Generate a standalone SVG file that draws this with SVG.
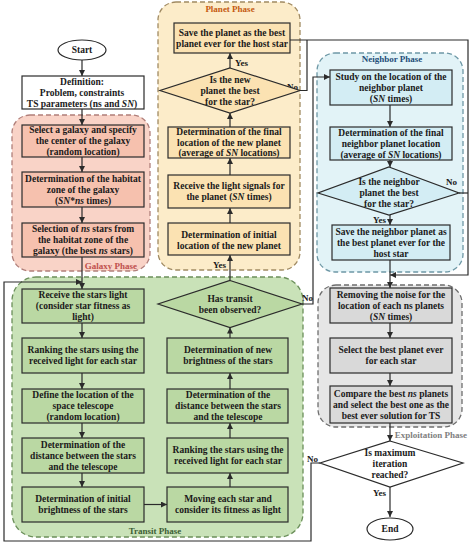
<svg xmlns="http://www.w3.org/2000/svg" width="474" height="548" viewBox="0 0 474 548">
<style>
text{font-family:"Liberation Serif","Times New Roman",serif;font-weight:bold;font-size:9.5px;fill:#1a1a1a;text-anchor:middle}
.it{font-style:italic}
.lbl{font-size:9px}
.yn{font-size:9px;text-anchor:start}
.box{stroke:#2b2b2b;stroke-width:1.2}
.ph{stroke-width:1.3;stroke-dasharray:5 3}
.gal{fill:#f9d3c7;stroke:#b07f7a}
.galb{fill:#f6c1ae}
.pla{fill:#fcecc9;stroke:#a08a62}
.plab{fill:#fbe2b2}
.nei{fill:#e2f3f7;stroke:#6e98a6}
.neib{fill:#d3edf4}
.tra{fill:#c9e2b8;stroke:#6b8f5a}
.trab{fill:#bad8a3}
.exp{fill:#e6e6e6;stroke:#6e6e6e}
.expb{fill:#d9d9d9}
.wht{fill:#ffffff}
#connectors path{fill:none;stroke:#2b2b2b;stroke-width:1.2}
</style>
<defs>
<marker id="ah" markerWidth="6" markerHeight="6" refX="6" refY="3" orient="auto" markerUnits="userSpaceOnUse">
<path d="M0,0 L6,3 L0,6 z" fill="#2b2b2b"/>
</marker>
</defs>

<g id="phases">
<g id="galaxy-phase"><rect class="ph gal" x="12" y="115" width="138" height="156" rx="18"/><text class="lbl" x="111" y="269" fill="#c0504d" style="fill:#c0504d">Galaxy Phase</text></g>
<g id="planet-phase"><rect class="ph pla" x="158" y="2" width="142" height="268" rx="18"/><text class="lbl" x="230" y="12" style="fill:#c55a11">Planet Phase</text></g>
<g id="neighbor-phase"><rect class="ph nei" x="317" y="53" width="146" height="219" rx="18"/><text class="lbl" x="392" y="62" style="fill:#1f4e79">Neighbor Phase</text></g>
<g id="transit-phase"><rect class="ph tra" x="12" y="277" width="291" height="260" rx="24"/><text class="lbl" x="155" y="534" style="fill:#3d5e35">Transit Phase</text></g>
<g id="exploitation-phase"><rect class="ph exp" x="318" y="285" width="144" height="142" rx="18"/><text class="lbl" x="431" y="438" style="fill:#7f7f7f">Exploitation Phase</text></g>
</g>

<g id="connectors">
<path d="M82,60 V76" marker-end="url(#ah)"/>
<path d="M82,109 V125" marker-end="url(#ah)"/>
<path d="M82,157 V172" marker-end="url(#ah)"/>
<path d="M82,207 V223" marker-end="url(#ah)"/>
<path d="M82,257 V289" marker-end="url(#ah)"/>
<path d="M82,323 V338" marker-end="url(#ah)"/>
<path d="M82,373 V389" marker-end="url(#ah)"/>
<path d="M82,423 V438" marker-end="url(#ah)"/>
<path d="M82,473 V487" marker-end="url(#ah)"/>
<path d="M144,504.5 H167" marker-end="url(#ah)"/>
<path d="M230,487 V473" marker-end="url(#ah)"/>
<path d="M230,438 V423" marker-end="url(#ah)"/>
<path d="M230,389 V373" marker-end="url(#ah)"/>
<path d="M230,338 V327.5" marker-end="url(#ah)"/>
<path d="M230,280.5 V255" marker-end="url(#ah)"/>
<path d="M230,223 V208" marker-end="url(#ah)"/>
<path d="M230,175 V158" marker-end="url(#ah)"/>
<path d="M230,127 V113" marker-end="url(#ah)"/>
<path d="M230,68 V53" marker-end="url(#ah)"/>
<path d="M300,90.5 H307 V40"/>
<path d="M290,40 H468 V275 H390" marker-end="url(#ah)"/>
<path d="M302,304 H313 V77 H330" marker-end="url(#ah)"/>
<path d="M390,105 V127" marker-end="url(#ah)"/>
<path d="M390,160 V167" marker-end="url(#ah)"/>
<path d="M390,215 V225" marker-end="url(#ah)"/>
<path d="M459,193 H468"/>
<path d="M390,260 V288" marker-end="url(#ah)"/>
<path d="M390,323 V338" marker-end="url(#ah)"/>
<path d="M390,373 V386" marker-end="url(#ah)"/>
<path d="M390,423 V441" marker-end="url(#ah)"/>
<path d="M390,487 V517" marker-end="url(#ah)"/>
<path d="M320,463 H311 V541 H4 V282 H82" marker-end="url(#ah)"/>
<text class="yn" x="235" y="66">Yes</text>
<text class="yn" x="287" y="90">No</text>
<text class="yn" x="213" y="268">Yes</text>
<text class="yn" x="302" y="301">No</text>
<text class="yn" x="373" y="223">Yes</text>
<text class="yn" x="446" y="185">No</text>
<text class="yn" x="307" y="462">No</text>
<text class="yn" x="373" y="496">Yes</text>
</g>

<g id="start"><ellipse class="box wht" cx="82" cy="50" rx="24" ry="10"/><text x="82" y="53.3">Start</text></g>
<g id="definition"><rect class="box wht" x="22" y="76" width="122" height="33"/><text x="82" y="84.8">Definition:</text><text x="82" y="95.8">Problem,  constraints</text><text x="82" y="106.8">TS parameters (ns and <tspan class="it">SN</tspan>)</text></g>

<g id="g1"><rect class="box galb" x="22" y="125" width="122" height="32"/><text x="83" y="133.3">Select a galaxy and specify</text><text x="83" y="144.3">the center of the galaxy</text><text x="83" y="155.3">(random location)</text></g>
<g id="g2"><rect class="box galb" x="22" y="172" width="122" height="35"/><text x="83" y="181.8">Determination of the habitat</text><text x="83" y="192.8">zone of the galaxy</text><text x="83" y="203.8">(<tspan class="it">SN</tspan>*<tspan class="it">ns</tspan> times)</text></g>
<g id="g3"><rect class="box galb" x="22" y="223" width="122" height="34"/><text x="83" y="232.3">Selection of <tspan class="it">ns</tspan> stars from</text><text x="83" y="243.3">the habitat zone of the</text><text x="83" y="254.3">galaxy (the best <tspan class="it">ns</tspan> stars)</text></g>

<g id="t1"><rect class="box trab" x="22" y="289" width="122" height="34"/><text x="83" y="298.3">Receive the stars light</text><text x="83" y="309.3">(consider star fitness as</text><text x="83" y="320.3">light)</text></g>
<g id="t2"><rect class="box trab" x="22" y="338" width="122" height="35"/><text x="83" y="353.3">Ranking the stars using the</text><text x="83" y="364.3">received light for each star</text></g>
<g id="t3"><rect class="box trab" x="22" y="389" width="122" height="34"/><text x="83" y="398.3">Define the location of the</text><text x="83" y="409.3">space telescope</text><text x="83" y="420.3">(random location)</text></g>
<g id="t4"><rect class="box trab" x="22" y="438" width="122" height="35"/><text x="83" y="447.8">Determination of the</text><text x="83" y="458.8">distance between the stars</text><text x="83" y="469.8">and the telescope</text></g>
<g id="t5"><rect class="box trab" x="22" y="487" width="122" height="35"/><text x="83" y="502.3">Determination of initial</text><text x="83" y="513.3">brightness of the stars</text></g>

<g id="transit-decision"><polygon class="box trab" points="230,280.5 302,304 230,327.5 158,304"/><text x="230" y="301.8">Has transit</text><text x="230" y="312.8">been observed?</text></g>
<g id="r1"><rect class="box trab" x="167" y="338" width="121" height="35"/><text x="228" y="353.3">Determination of new</text><text x="228" y="364.3">brightness of the stars</text></g>
<g id="r2"><rect class="box trab" x="167" y="389" width="121" height="34"/><text x="228" y="398.3">Determination of the</text><text x="228" y="409.3">distance between the stars</text><text x="228" y="420.3">and the telescope</text></g>
<g id="r3"><rect class="box trab" x="167" y="438" width="121" height="35"/><text x="228" y="453.3">Ranking the stars using the</text><text x="228" y="464.3">received light for each star</text></g>
<g id="r4"><rect class="box trab" x="167" y="487" width="121" height="35"/><text x="228" y="502.3">Moving each star and</text><text x="228" y="513.3">consider its fitness as light</text></g>

<g id="p-save"><rect class="box plab" x="174" y="23" width="116" height="30"/><text x="232" y="36.3">Save the planet as the best</text><text x="232" y="47.3">planet ever for the host star</text></g>
<g id="p-decision"><polygon class="box plab" points="230,68 300,90.5 230,113 160,90.5"/><text x="230" y="83">Is the new</text><text x="230" y="94">planet the best</text><text x="230" y="105">for the star?</text></g>
<g id="p-final"><rect class="box plab" x="168" y="127" width="122" height="31"/><text x="229" y="134.8">Determination of the final</text><text x="229" y="145.8">location of the new planet</text><text x="229" y="156.3">(average of <tspan class="it">SN</tspan> locations)</text></g>
<g id="p-receive"><rect class="box plab" x="168" y="175" width="122" height="33"/><text x="229" y="189.3">Receive the light signals for</text><text x="229" y="200.3">the planet (<tspan class="it">SN</tspan> times)</text></g>
<g id="p-init"><rect class="box plab" x="168" y="223" width="122" height="32"/><text x="229" y="237.8">Determination of initial</text><text x="229" y="248.8">location of the new planet</text></g>

<g id="n1"><rect class="box neib" x="330" y="70" width="122" height="35"/><text x="391" y="79.8">Study on the location of the</text><text x="391" y="90.8">neighbor planet</text><text x="391" y="101.8">(<tspan class="it">SN</tspan> times)</text></g>
<g id="n2"><rect class="box neib" x="330" y="127" width="122" height="33"/><text x="391" y="135.8">Determination of the final</text><text x="391" y="146.8">neighbor planet location</text><text x="391" y="157.8">(average of <tspan class="it">SN</tspan> locations)</text></g>
<g id="n-decision"><polygon class="box neib" points="389,167 459,193 389,215 318,193"/><text x="389" y="185">Is the neighbor</text><text x="389" y="196">planet the best</text><text x="389" y="207">for the star?</text></g>
<g id="n3"><rect class="box neib" x="332" y="225" width="118" height="35"/><text x="391" y="234.8">Save the neighbor planet as</text><text x="391" y="245.8">the best planet ever for the</text><text x="391" y="256.8">host star</text></g>

<g id="e1"><rect class="box expb" x="330" y="288" width="122" height="35"/><text x="391" y="297.8">Removing the noise for the</text><text x="391" y="308.8">location of each ns planets</text><text x="391" y="319.8">(<tspan class="it">SN</tspan> times)</text></g>
<g id="e2"><rect class="box expb" x="330" y="338" width="122" height="35"/><text x="391" y="353.3">Select the best planet ever</text><text x="391" y="364.3">for each star</text></g>
<g id="e3"><rect class="box expb" x="330" y="386" width="122" height="37"/><text x="391" y="396.8">Compare the best <tspan class="it">ns</tspan> planets</text><text x="391" y="407.8">and select the best one as the</text><text x="391" y="418.8">best ever solution for TS</text></g>
<g id="max-decision"><polygon class="wht box" points="390,441 463,463 390,487 320,463"/><text x="390" y="456">Is maximum</text><text x="390" y="467">iteration</text><text x="390" y="478">reached?</text></g>
<g id="end"><ellipse class="box wht" cx="390" cy="529" rx="23" ry="11"/><text x="390" y="532.3">End</text></g>
</svg>
